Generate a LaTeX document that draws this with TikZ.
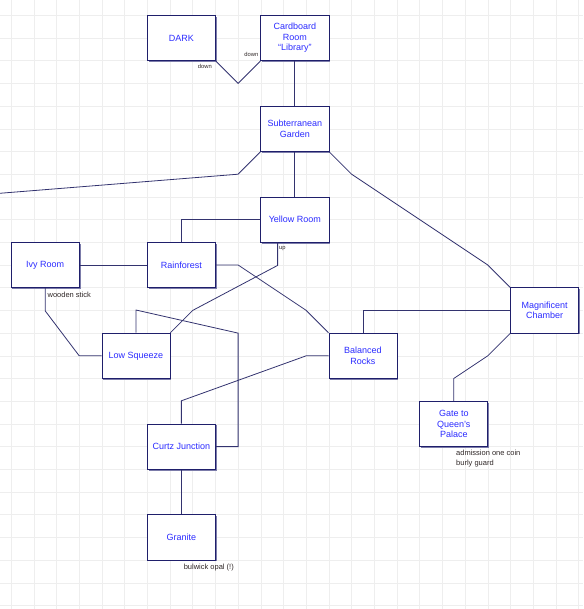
\documentclass[tikz,border=0pt]{standalone}
\usepackage{fontspec}
\setmainfont{Liberation Sans}
\usetikzlibrary{shadows,calc}

\definecolor{roomline}{HTML}{1F1F6B}
\definecolor{roomshade}{HTML}{7C7CAA}
\definecolor{roomtext}{HTML}{2B2BFF}
\definecolor{passline}{HTML}{33336F}
\definecolor{notetext}{HTML}{2E2626}
\definecolor{gridgray}{HTML}{EEEEEE}

\begin{document}
\begin{tikzpicture}[x=22.7pt,y=-22.7pt,
  room/.style={draw=roomline,line width=0.8pt,fill=white,text=roomtext,
    minimum width=68.1pt,minimum height=45.4pt,inner sep=0pt,align=center,
    font=\fontsize{9}{10.4}\selectfont,
    drop shadow={shadow xshift=1.3pt,shadow yshift=-1.3pt,fill=roomshade,opacity=1}},
  passage/.style={draw=passline,line width=0.8pt},
  note/.style={inner sep=0pt,text=notetext,font=\fontsize{7.5}{9.3}\selectfont},
  tinynote/.style={inner sep=0pt,text=notetext,font=\fontsize{5.8}{7}\selectfont}]
\useasboundingbox (-0.489,-0.674) rectangle (25.194,26.154);

% grid
\foreach \x in {0,1,...,25} {
\draw[gridgray,line width=0.6pt] (\x,-0.674) -- (\x,26.154);
}
\foreach \y in {0,1,...,26} {
\draw[gridgray,line width=0.6pt] (-0.489,\y) -- (25.194,\y);
}

% rooms
\node[room] (dark) at (7.5,1) {DARK};
\node[room] (cardboard) at (12.5,1) {Cardboard\\Room\\``Library''};
\node[room] (garden) at (12.5,5) {Subterranean\\Garden};
\node[room] (yellow) at (12.5,9) {Yellow Room};
\node[room] (ivy) at (1.5,11) {Ivy Room};
\node[room] (rainforest) at (7.5,11) {Rainforest};
\node[room] (chamber) at (23.5,13) {Magnificent\\Chamber};
\node[room] (squeeze) at (5.5,15) {Low Squeeze};
\node[room] (rocks) at (15.5,15) {Balanced\\Rocks};
\node[room] (gate) at (19.5,18) {Gate to\\Queen's\\Palace};
\node[room] (curtz) at (7.5,19) {Curtz Junction};
\node[room] (granite) at (7.5,23) {Granite};

\coordinate (offmap) at (-0.489,7.84);

% passages
\draw[passage] (dark.south east) -- (10,3) -- (cardboard.south west);
\node[tinynote,anchor=east] (downa) at (8.85,2.26) {down};
\node[tinynote,anchor=east] (downb) at (10.9,1.72) {down};
\draw[passage] (cardboard.south) -- (garden.north);
\draw[passage] (garden.south) -- (yellow.north);
\draw[passage] (garden.south west) -- (10,7) -- (offmap);
\draw[passage] (garden.south east) -- (15,7) -- (21,11) -- (chamber.north west);
\draw[passage] (yellow.west) -| (rainforest.north);
\draw[passage] (ivy.east) -- (rainforest.west);
\draw[passage] ($(yellow.south west)!0.25!(yellow.south east)$) -- ++(0,1) -- (8,13) -- (squeeze.north east);
\node[tinynote,anchor=west] (up) at (11.8,10.28) {up};
\draw[passage] (ivy.south) -- ++(0,1) -- (3,15) -- (squeeze.west);
\node[note,anchor=west] (stick) at (1.6,12.32) {wooden stick};
\draw[passage] (squeeze.north) -- ++(0,-1) -- (10,14) |- (curtz.east);
\draw[passage] (rainforest.east) -- (10,11) -- (13,13) -- (rocks.north west);
\draw[passage] (curtz.north) -- ++(0,-1) -- (13,15) -- (rocks.west);
\draw[passage] (chamber.west) -| (rocks.north);
\draw[passage] (chamber.south west) -- (21,15) -- (19.5,16) -- (gate.north);
\draw[passage] (curtz.south) -- (granite.north);

% notes
\node[note,anchor=west,align=left] (guard) at (19.6,19.53) {admission one coin\\burly guard};
\node[note,anchor=west] (opal) at (7.6,24.34) {bulwick opal (!)};
\end{tikzpicture}
\end{document}
